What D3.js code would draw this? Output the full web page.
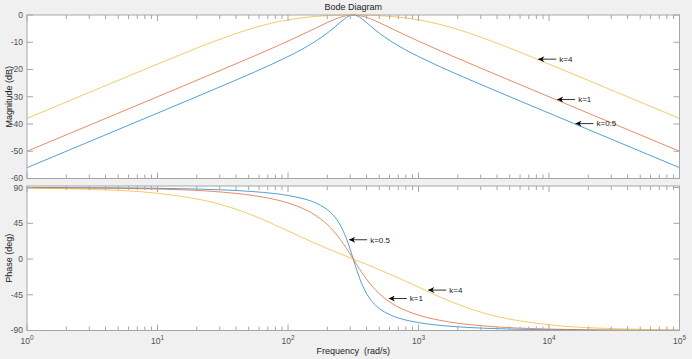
<!DOCTYPE html>
<html><head><meta charset="utf-8">
<script src="https://cdn.jsdelivr.net/npm/d3@7"></script>
<style>
html,body{margin:0;padding:0;background:#f0f0f0;}
svg{display:block;font-family:"Liberation Sans",Arial,Helvetica,sans-serif;}
</style></head>
<body>
<svg id="c" width="692" height="359"></svg>
<script>
// ---- data ----
const freqs = [1, 3.162, 10, 31.62, 56.23, 100, 125.9, 158.5, 199.5, 223.9, 251.2, 281.8, 298.5, 316.2, 335.0, 354.8, 398.1, 446.7, 501.2, 631.0, 794.3, 1000, 1778, 3162, 10000, 31623, 100000];
const seriesNames = ["k=0.5", "k=1", "k=4"];
const magK05 = [-56.02, -46.02, -36.01, -25.94, -20.78, -15.24, -12.76, -9.97, -6.67, -4.75, -2.70, -0.84, -0.22, 0, -0.22, -0.84, -2.70, -4.75, -6.67, -9.97, -12.76, -15.24, -20.78, -25.94, -36.01, -46.02, -56.02];
const magK1  = [-50.00, -40.00, -30.00, -19.96, -14.87, -9.59, -7.38, -5.10, -2.81, -1.75, -0.85, -0.23, -0.06, 0, -0.06, -0.23, -0.85, -1.75, -2.81, -5.10, -7.38, -9.59, -14.87, -19.96, -30.00, -40.00, -50.00];
const magK4  = [-37.96, -27.97, -18.02, -8.53, -4.55, -1.78, -1.07, -0.57, -0.24, -0.13, -0.06, -0.01, 0, 0, 0, -0.01, -0.06, -0.13, -0.24, -0.57, -1.07, -1.78, -4.55, -8.53, -18.02, -27.97, -37.96];
const phK05 = [89.91, 89.71, 89.09, 87.11, 84.75, 80.04, 76.69, 71.50, 62.34, 54.64, 42.90, 24.78, 12.97, 0, -12.97, -24.78, -42.90, -54.64, -62.34, -71.50, -76.69, -80.04, -84.75, -87.11, -89.09, -89.71, -89.91];
const phK1  = [89.82, 89.43, 88.19, 84.23, 79.59, 70.64, 64.68, 56.20, 43.65, 35.17, 24.92, 13.00, 6.57, 0, -6.57, -13.00, -24.92, -35.17, -43.65, -56.20, -64.68, -70.64, -79.59, -84.23, -88.19, -89.43, -89.82];
const phK4  = [89.28, 87.71, 82.78, 68.00, 53.70, 35.43, 27.85, 20.48, 13.41, 9.99, 6.63, 3.30, 1.65, 0, -1.65, -3.30, -6.63, -9.99, -13.41, -20.48, -27.85, -35.43, -53.70, -68.00, -82.78, -87.71, -89.28];
const magTicks = [0, -10, -20, -30, -40, -50, -60];
const phaseTicks = [90, 45, 0, -45, -90];
const decadeTicks = [1, 10, 100, 1000, 10000, 100000];
const decadeExps = ["0", "1", "2", "3", "4", "5"];
const magNoteLabels = ["k=4", "k=1", "k=0.5"];
const magNoteFreqs = [8128, 11350, 15680];
const magNoteVals = [-16.2, -31.0, -39.85];
const phNoteLabels = ["k=0.5", "k=4", "k=1"];
const phNoteFreqs = [289, 1167, 582];
const phNoteVals = [24.3, -39.1, -49.7];

// ---- layout ----
const colors = ["#0072BD", "#D95319", "#EDB120"];
const X0 = 27, X1 = 679.5;
const top1 = 15, bot1 = 178.5, top2 = 186, bot2 = 330.5;
const svg = d3.select("#c");
const x = d3.scaleLog().domain([1, 1e5]).range([X0, X1]);
const yM = d3.scaleLinear().domain([-60, 0]).range([bot1, top1]);
const yP = d3.scaleLinear().domain([-90, 92]).range([bot2, top2]);
const axisCol = "#a6a6a6", textCol = "#505050";

const minor = [];
for (let e = 0; e < 5; e++) for (let m = 2; m <= 9; m++) minor.push(m * Math.pow(10, e));

svg.append("defs").append("marker").attr("id","ah").attr("viewBox","0 0 10 10")
  .attr("refX",10).attr("refY",5).attr("markerWidth",8).attr("markerHeight",6)
  .attr("markerUnits","userSpaceOnUse").attr("orient","auto")
  .append("path").attr("d","M0,0 L10,5 L0,10 L3,5 Z").attr("fill","#000");

function panel(y, yTicks, top, bot, series, ylabel, showX, notes) {
  const g = svg.append("g");
  g.append("rect").attr("x", X0).attr("y", top).attr("width", X1 - X0).attr("height", bot - top).attr("fill", "#fff");
  const line = d3.line().x((d, i) => x(freqs[i])).y(d => y(d)).curve(d3.curveMonotoneX);
  series.forEach((s, i) => {
    g.append("path").attr("d", line(s)).attr("fill", "none").attr("stroke", colors[i])
      .attr("stroke-width", 0.9).attr("stroke-opacity", 0.75);
  });
  g.append("rect").attr("x", X0).attr("y", top).attr("width", X1 - X0).attr("height", bot - top)
    .attr("fill", "none").attr("stroke", axisCol).attr("stroke-width", 1);
  const tk = g.append("g").attr("stroke", axisCol).attr("stroke-width", 1);
  decadeTicks.forEach(f => {
    tk.append("line").attr("x1", x(f)).attr("x2", x(f)).attr("y1", bot).attr("y2", bot - 6);
    tk.append("line").attr("x1", x(f)).attr("x2", x(f)).attr("y1", top).attr("y2", top + 6);
  });
  minor.forEach(f => {
    tk.append("line").attr("x1", x(f)).attr("x2", x(f)).attr("y1", bot).attr("y2", bot - 4);
    tk.append("line").attr("x1", x(f)).attr("x2", x(f)).attr("y1", top).attr("y2", top + 4);
  });
  yTicks.forEach(v => {
    tk.append("line").attr("x1", X0).attr("x2", X0 + 6).attr("y1", y(v)).attr("y2", y(v));
    tk.append("line").attr("x1", X1).attr("x2", X1 - 6).attr("y1", y(v)).attr("y2", y(v));
    g.append("text").attr("x", X0 - 4).attr("y", y(v)).attr("dy", "0.35em").attr("text-anchor", "end")
      .attr("font-size", 8.5).attr("fill", textCol).text(v);
  });
  g.append("text").attr("transform", `translate(12,${(top + bot) / 2}) rotate(-90)`)
    .attr("text-anchor", "middle").attr("font-size", 9).attr("fill", "#222").text(ylabel);
  if (showX) {
    decadeTicks.forEach((f, i) => {
      const t = g.append("text").attr("x", x(f)).attr("y", bot + 13).attr("text-anchor", "middle")
        .attr("font-size", 8.5).attr("fill", textCol);
      t.append("tspan").text("10");
      t.append("tspan").attr("dy", -4).attr("font-size", 6.5).text(decadeExps[i]);
    });
  }
  notes.labels.forEach((lab, i) => {
    const px = x(notes.freqs[i]), py = y(notes.vals[i]);
    g.append("line").attr("x1", px + 19).attr("y1", py).attr("x2", px + 1).attr("y2", py)
      .attr("stroke", "#000").attr("stroke-width", 0.8).attr("marker-end", "url(#ah)");
    g.append("text").attr("x", px + 22).attr("y", py).attr("dy", "0.35em")
      .attr("font-size", 8).attr("fill", "#222").text(lab);
  });
}

panel(yM, magTicks, top1, bot1, [magK05, magK1, magK4], "Magnitude (dB)", false,
  {labels: magNoteLabels, freqs: magNoteFreqs, vals: magNoteVals});
panel(yP, phaseTicks, top2, bot2, [phK05, phK1, phK4], "Phase (deg)", true,
  {labels: phNoteLabels, freqs: phNoteFreqs, vals: phNoteVals});

svg.append("text").attr("x", (X0 + X1) / 2).attr("y", 10).attr("text-anchor", "middle")
  .attr("font-size", 9).attr("fill", "#222").text("Bode Diagram");
svg.append("text").attr("x", (X0 + X1) / 2).attr("y", 354).attr("text-anchor", "middle")
  .attr("font-size", 9).attr("fill", "#222").attr("xml:space","preserve").text("Frequency  (rad/s)");
</script>
</body></html>
